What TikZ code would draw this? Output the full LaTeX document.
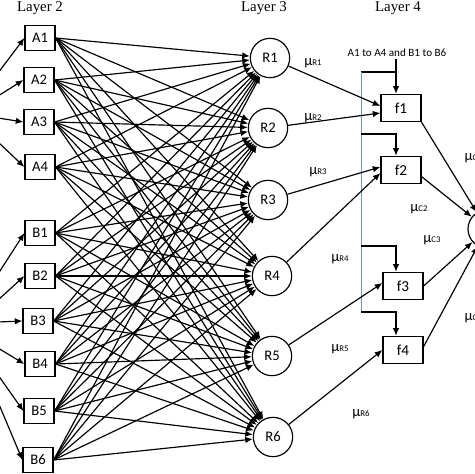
\documentclass[tikz,border=0pt]{standalone}
\usepackage{fontspec}
\setmainfont{Liberation Serif}
\newfontfamily\carlitofont{Carlito}
\usetikzlibrary{arrows.meta}
\definecolor{bline}{rgb}{0.45,0.58,0.78}
\newcommand{\mulab}[1]{{\fontsize{12.5}{12}\selectfont μ}\raisebox{-0.4pt}{\fontsize{7.5}{8}\selectfont #1}}
\begin{document}
\begin{tikzpicture}[x=0.03cm,y=-0.03cm,
  line width=1pt,
  arr/.style={-{Latex[length=6.5pt,width=5.5pt]}},
  lbox/.style={draw,minimum width=0.9cm,minimum height=0.76cm,inner sep=0pt,font=\carlitofont\fontsize{12.5}{13}\selectfont},
  rcirc/.style={draw,circle,minimum size=1.18cm,inner sep=0pt,font=\carlitofont\fontsize{12.5}{13}\selectfont},
  fbox/.style={draw,minimum width=1.2cm,minimum height=0.82cm,inner sep=0pt,font=\carlitofont\fontsize{13}{14}\selectfont},
  layer/.style={font=\fontsize{12.7}{14}\selectfont,anchor=base,inner sep=0pt},
  mul/.style={font=\carlitofont,inner sep=0pt}]
\useasboundingbox (0,0) rectangle (474,474);
% layer titles
\node[layer] (L2) at (40,11) {Layer 2};
\node[layer] (L3) at (264,11) {Layer 3};
\node[layer] (L4) at (398,11) {Layer 4};
% layer 2 boxes
\node[lbox] (A1) at (40,38) {A1};
\node[lbox] (A2) at (39,80) {A2};
\node[lbox] (A3) at (39,122) {A3};
\node[lbox] (A4) at (40,167) {A4};
\node[lbox] (B1) at (40,233) {B1};
\node[lbox] (B2) at (40,276) {B2};
\node[lbox] (B3) at (38,321) {B3};
\node[lbox] (B4) at (40,364) {B4};
\node[lbox] (B5) at (39,411) {B5};
\node[lbox] (B6) at (38,460) {B6};
% inputs from layer 1
\coordinate (iA1) at (-2,73);
\coordinate (iA2) at (-2,96);
\coordinate (iA3) at (-2,118);
\coordinate (iA4) at (-2,142);
\coordinate (iB1) at (-2,274);
\coordinate (iB2) at (-2,300);
\coordinate (iB3) at (-2,322);
\coordinate (iB4) at (-2,348);
\coordinate (iB5) at (-2,375);
\coordinate (iB6) at (-2,402);
\foreach \n in {A1,A2,A3,A4,B1,B2,B3,B4,B5,B6}
  \draw[arr] (i\n) -- (\n.west);
% layer 3 circles
\node[rcirc] (R1) at (270,58) {R1};
\node[rcirc] (R2) at (268,128) {R2};
\node[rcirc] (R3) at (268,200) {R3};
\node[rcirc] (R4) at (272,276) {R4};
\node[rcirc] (R5) at (272,356) {R5};
\node[rcirc] (R6) at (273,437) {R6};
\foreach \a in {A1,A2,A3,A4,B1,B2,B3,B4,B5,B6}
  \foreach \r in {R1,R2,R3,R4,R5,R6}
    \draw[arr] (\a.east) -- (\r);
% layer 4 boxes
\node[fbox] (f1) at (401,108) {f1};
\node[fbox] (f2) at (401,170) {f2};
\node[fbox] (f3) at (403,286) {f3};
\node[fbox] (f4) at (403,350) {f4};
% output circle (partly outside)
\node[draw,circle,minimum size=1.14cm,inner sep=0pt] (C) at (487,229) {};
% top input text
\node[font=\carlitofont\fontsize{9.5}{11}\selectfont,inner sep=1pt] (T) at (397,53) {A1 to A4 and B1 to B6};
\coordinate (t1) at (396,72);
\coordinate (c2) at (361,134);
\coordinate (c3) at (361,246);
\coordinate (c4) at (361,312);
\coordinate (ct) at (361,72);
\draw[arr] (T.south -| t1) -- (t1 |- f1.north);
\draw (ct) -- (t1);
\draw[bline,line width=0.8pt] (ct) -- (c4);
\draw[arr] (c2) -| ([xshift=-0.15cm]f2.north);
\draw[arr] (c3) -| ([xshift=-0.21cm]f3.north);
\draw[arr] (c4) -| ([xshift=-0.21cm]f4.north);
% rules to layer 4
\draw[arr] (R1) -- ([yshift=0.06cm]f1.west);
\draw[arr] (R2) -- ([yshift=-0.15cm]f1.west);
\draw[arr] (R3) -- ([yshift=0.09cm]f2.west);
\draw[arr] (R4) -- ([yshift=-0.09cm]f2.west);
\draw[arr] (R5) -- ([yshift=0.09cm]f3.west);
\draw[arr] (R6) -- (f4.west);
% layer 4 to output
\draw[arr] (f1.south east) -- (C);
\draw[arr] ([yshift=-0.2cm]f2.east) -- (C);
\draw[arr] (f3.east) -- (C);
\draw[arr] ([yshift=0.1cm]f4.east) -- (C);
% mu labels
\node[mul] (m1) at (313,63) {\mulab{R1}};
\node[mul] (m2) at (313,118) {\mulab{R2}};
\node[mul] (m3) at (318,172) {\mulab{R3}};
\node[mul] (m4) at (340,259) {\mulab{R4}};
\node[mul] (m5) at (340,349) {\mulab{R5}};
\node[mul] (m6) at (361,414) {\mulab{R6}};
\node[mul] (mc2) at (419,209) {\mulab{C2}};
\node[mul] (mc3) at (432,240) {\mulab{C3}};
\node[mul,anchor=west] (mc1) at (464,158) {\mulab{C1}};
\node[mul,anchor=west] (mc4) at (464,318) {\mulab{C4}};
\end{tikzpicture}
\end{document}
